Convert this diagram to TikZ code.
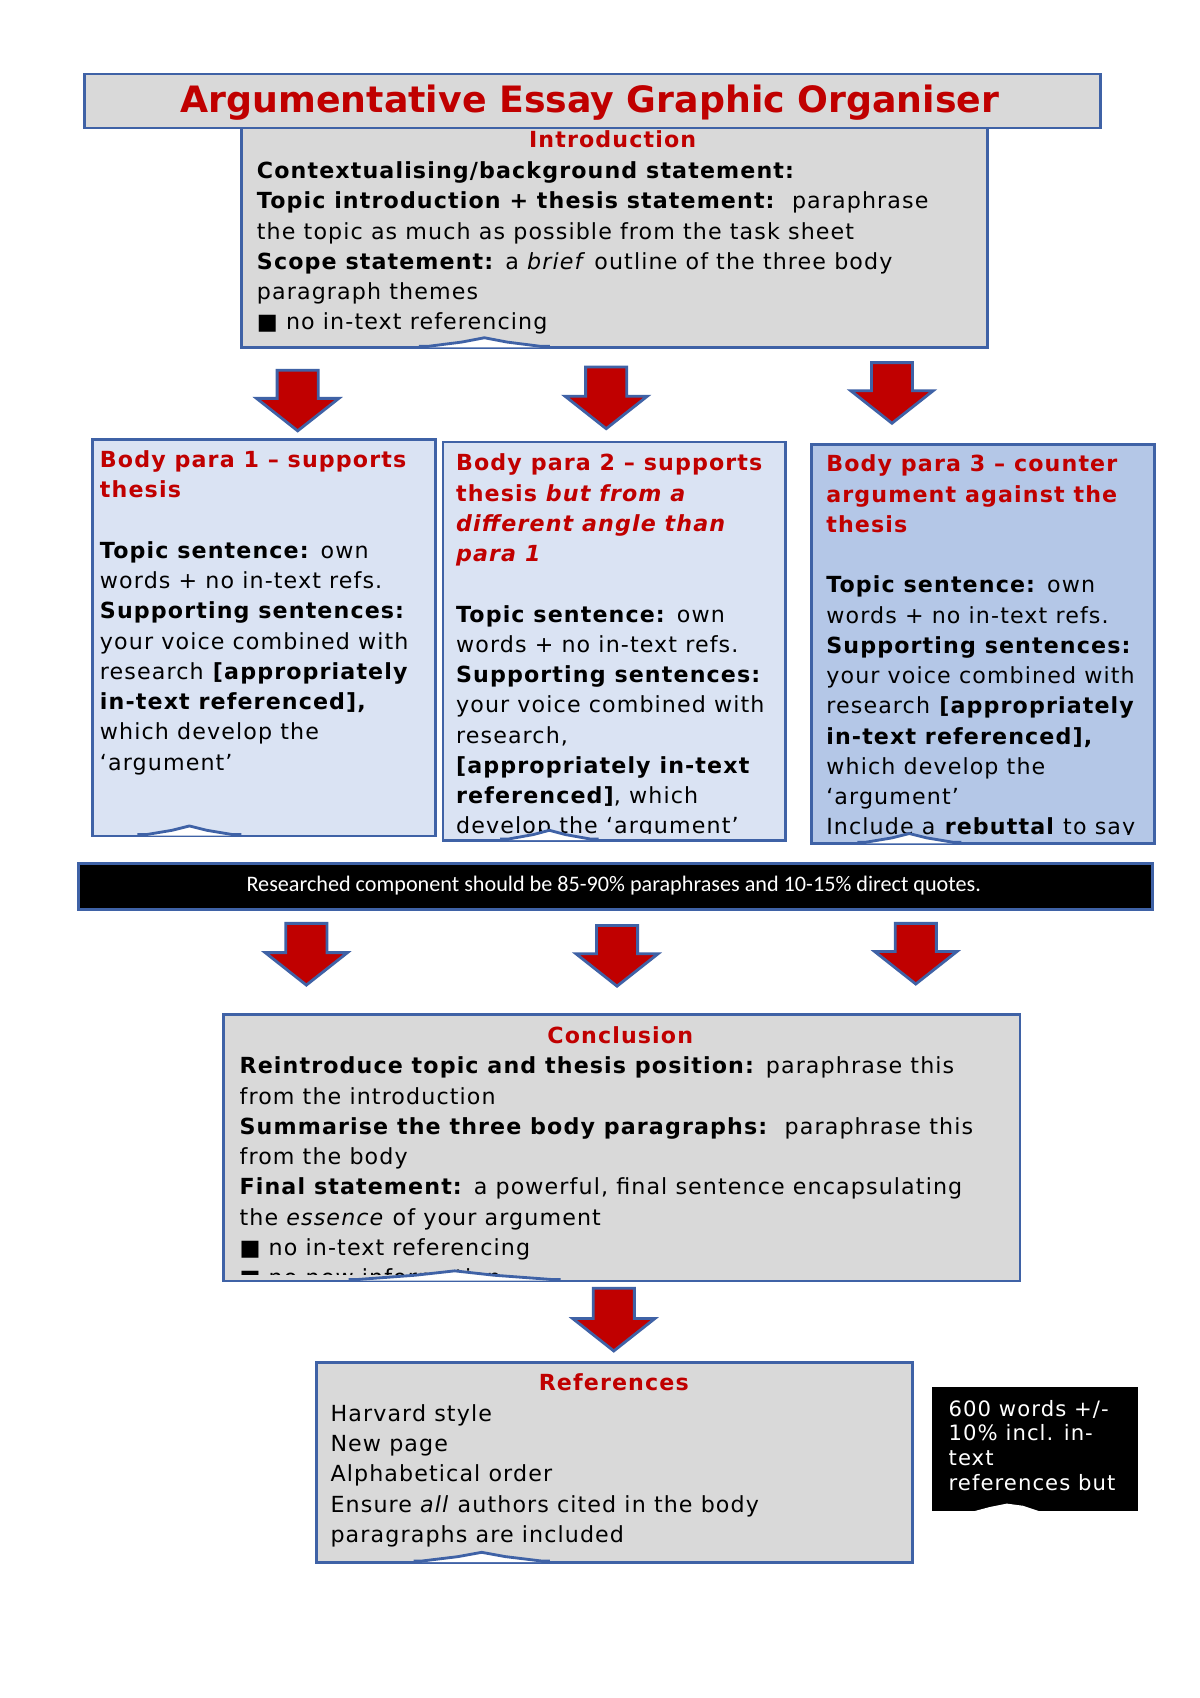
\documentclass[tikz,border=0pt]{standalone}
\usepackage{fontspec}
\setmainfont[LetterSpace=5]{DejaVu Sans}
\newfontfamily\titlefont{DejaVu Sans}
\newfontfamily\bannerfont{Carlito}
\usetikzlibrary{positioning}

\definecolor{boxblue}{HTML}{3F62A6}
\definecolor{titlered}{HTML}{C00000}
\definecolor{panelgray}{HTML}{D9D9D9}
\definecolor{paleblue}{HTML}{DAE3F3}
\definecolor{midblue}{HTML}{B4C7E7}

\newcommand\pxu{0.5368pt}
% block arrow: centre x, top of shaft, tip
\newcommand\blockarrow[3]{%
  \draw[redarrow] (#1-19,#2) -- (#1+19,#2) -- (#1+19,#3-30) -- (#1+38,#3-30)
    -- (#1,#3) -- (#1-38,#3-30) -- (#1-19,#3-30) -- cycle;}
% torn edge at the foot of a box: from x, to x, bottom y
\newcommand\tear[3]{%
  \fill[white] (#1,#3+1) -- (#1+0.3*#2-0.3*#1,#3-4) -- (0.5*#1+0.5*#2,#3-8)
    -- (#2-0.3*#2+0.3*#1,#3-4) -- (#2,#3+1) -- cycle;
  \draw[tear] (#1-8,#3) -- (#1,#3) -- (#1+0.3*#2-0.3*#1,#3-4) -- (0.5*#1+0.5*#2,#3-8)
    -- (#2-0.3*#2+0.3*#1,#3-4) -- (#2,#3) -- (#2+8,#3);}

\tikzset{
  panel/.style={draw=boxblue, line width=1.4pt, anchor=north west, inner sep=0pt},
  bodytext/.style={anchor=north west, inner sep=0pt, align=left,
    font=\fontsize{11}{15}\selectfont},
  heading/.style={text=titlered, inner sep=0pt, font=\fontsize{11}{15}\selectfont\bfseries},
  redarrow/.style={fill=titlered, draw=boxblue, line width=1.4pt, line join=miter},
  tear/.style={draw=boxblue, line width=1.4pt}
}

\begin{document}
\begin{tikzpicture}[x=\pxu, y=-\pxu]
  \useasboundingbox[fill=white] (0,0) rectangle (1108.5,1568.6);

  % title and introduction
  \node[panel, fill=panelgray, minimum width=938*\pxu, minimum height=50*\pxu] (title) at (77,67) {};
  \node[text=titlered, inner sep=0pt, anchor=base, font=\titlefont\fontsize{18}{21}\selectfont\bfseries]
    (titletxt) at (545,104) {Argumentative Essay Graphic Organiser};

  \node[panel, fill=panelgray, minimum width=689*\pxu, minimum height=203*\pxu] (intro) at (222,117) {};
  \node[heading] (introhead) at (566,129) {Introduction};
  \node[bodytext] (introtxt) at (237,149) {%
    \textbf{Contextualising/background statement:}\\
    \textbf{Topic introduction + thesis statement:}\ \ paraphrase\\
    the topic as much as possible from the task sheet\\
    \textbf{Scope statement:} a \textit{brief} outline of the three body\\
    paragraph themes\\
    ■ no in-text referencing};
  \tear{395}{500}{320}

  \foreach \x/\t/\b in {275/342/398, 560/339/396, 824/335/391}
    {\blockarrow{\x}{\t}{\b}}

  % body paragraphs
  \node[panel, fill=paleblue, minimum width=317*\pxu, minimum height=366*\pxu] (body1) at (84,405) {};
  \node[bodytext] (body1txt) at (92,416) {%
    \textcolor{titlered}{\textbf{Body para 1 – supports}}\\
    \textcolor{titlered}{\textbf{thesis}}\\[15pt]
    \textbf{Topic sentence:} own\\
    words + no in-text refs.\\
    \textbf{Supporting sentences:}\\
    your voice combined with\\
    research \textbf{[appropriately}\\
    \textbf{in-text referenced],}\\
    which develop the\\
    ‘argument’};
  \tear{135}{215}{771}

  \node[panel, fill=paleblue, minimum width=316*\pxu, minimum height=368*\pxu] (body2) at (408,407) {};
  \begin{scope}
    \clip (408,407) rectangle (724,770);
    \node[bodytext] (body2txt) at (421,419) {%
      \textcolor{titlered}{\textbf{Body para 2 – supports}}\\
      \textcolor{titlered}{\textbf{thesis \textit{but from a}}}\\
      \textcolor{titlered}{\textbf{\textit{different angle than}}}\\
      \textcolor{titlered}{\textbf{\textit{para 1}}}\\[15pt]
      \textbf{Topic sentence:} own\\
      words + no in-text refs.\\
      \textbf{Supporting sentences:}\\
      your voice combined with\\
      research,\\
      \textbf{[appropriately in-text}\\
      \textbf{referenced]}, which\\
      develop the ‘argument’};
  \end{scope}
  \tear{470}{545}{775}

  \node[panel, fill=midblue, minimum width=317*\pxu, minimum height=369*\pxu] (body3) at (748,409) {};
  \begin{scope}
    \clip (748,409) rectangle (1065,771);
    \node[bodytext] (body3txt) at (763,420) {%
      \textcolor{titlered}{\textbf{Body para 3 – counter}}\\
      \textcolor{titlered}{\textbf{argument against the}}\\
      \textcolor{titlered}{\textbf{thesis}}\\[15pt]
      \textbf{Topic sentence:} own\\
      words + no in-text refs.\\
      \textbf{Supporting sentences:}\\
      your voice combined with\\
      research \textbf{[appropriately}\\
      \textbf{in-text referenced],}\\
      which develop the\\
      ‘argument’\\
      Include a \textbf{rebuttal} to say};
  \end{scope}
  \tear{800}{880}{778}

  % banner
  \node[panel, fill=black, minimum width=992*\pxu, minimum height=43*\pxu] (banner) at (71,796) {};
  \node[text=white, inner sep=0pt, font=\bannerfont\fontsize{11}{13}\selectfont] (bannertxt) at (567,818)
    {Researched component should be 85-90\% paraphrases and 10-15\% direct quotes.};

  \foreach \x/\t/\b in {283/853/910, 570/855/911, 846/853/909}
    {\blockarrow{\x}{\t}{\b}}

  % conclusion
  \node[panel, fill=panelgray, minimum width=736*\pxu, minimum height=246*\pxu] (concl) at (205,936) {};
  \node[heading] (conclhead) at (573,956) {Conclusion};
  \begin{scope}
    \clip (205,936) rectangle (941,1177);
    \node[bodytext] (concltxt) at (221,976) {%
      \textbf{Reintroduce topic and thesis position:} paraphrase this\\
      from the introduction\\
      \textbf{Summarise the three body paragraphs:}\ \ paraphrase this\\
      from the body\\
      \textbf{Final statement:} a powerful, final sentence encapsulating\\
      the \textit{essence} of your argument\\
      ■ no in-text referencing\\
      ■ no new information};
  \end{scope}
  \tear{330}{510}{1182}

  \blockarrow{567}{1190}{1248}

  % references
  \node[panel, fill=panelgray, minimum width=551*\pxu, minimum height=185*\pxu] (refs) at (291,1257) {};
  \node[heading] (refshead) at (567,1277) {References};
  \node[bodytext] (refstxt) at (305,1297) {%
    Harvard style\\
    New page\\
    Alphabetical order\\
    Ensure \textit{all} authors cited in the body\\
    paragraphs are included};
  \tear{390}{500}{1442}

  % word count
  \node[anchor=north west, fill=black, inner sep=0pt, minimum width=190*\pxu, minimum height=114*\pxu]
    (count) at (861,1281) {};
  \node[anchor=north west, inner sep=0pt, align=left, text=white, font=\fontsize{10.5}{12.3}\selectfont]
    (counttxt) at (876,1293) {600 words +/-\\ 10\% incl. in-\\ text\\ references but};
  \fill[white] (900,1396) -- (915,1392) -- (930,1389) -- (945,1391) -- (960,1396) -- cycle;
\end{tikzpicture}
\end{document}
